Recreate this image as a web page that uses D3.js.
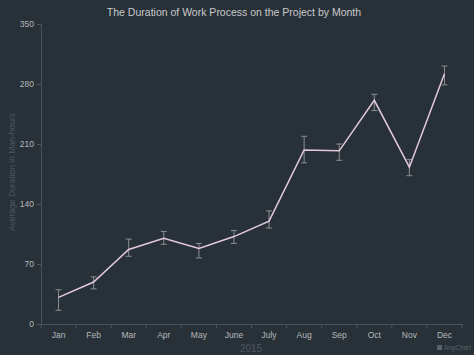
<!DOCTYPE html>
<html><head><meta charset="utf-8">
<script src="https://cdn.jsdelivr.net/npm/d3@7"></script>
<style>html,body{margin:0;padding:0;background:#293138;}svg{display:block;}</style>
</head><body>
<svg id="c" width="474" height="355"></svg>
<script>
const months = ["Jan","Feb","Mar","Apr","May","June","July","Aug","Sep","Oct","Nov","Dec"];
const values = [31, 49, 87, 100, 88, 102, 120, 203, 202, 261, 183, 292];
const errLow = [16, 41, 79, 93, 77, 94, 112, 188, 191, 249, 173, 279];
const errHigh = [40, 55, 99, 108, 94, 109, 132, 219, 210, 268, 192, 301];
const yTicks = [0, 70, 140, 210, 280, 350];

const svg = d3.select("#c");
const W = 474, H = 355;
svg.append("rect").attr("width", W).attr("height", H).attr("fill", "#293138");

const x = d3.scaleBand().domain(months).range([41, 462]);
const y = d3.scaleLinear().domain([0, 350]).range([324, 24]);

const font = "Arial, 'Liberation Sans', sans-serif";

svg.append("text").attr("x", 234).attr("y", 16).attr("text-anchor", "middle")
  .attr("font-family", font).attr("font-size", 10.5).attr("fill", "#c8cacc")
  .text("The Duration of Work Process on the Project by Month");

// y axis
const ya = svg.append("g").attr("transform", "translate(41,0)")
  .call(d3.axisLeft(y).tickValues(yTicks).tickSize(4).tickPadding(3));
ya.select(".domain").attr("stroke", "#4b545b");
ya.selectAll(".tick line").attr("stroke", "#4b545b");
ya.selectAll(".tick text").attr("fill", "#b4b8bb").attr("font-family", font).attr("font-size", 8.5);

// x axis
const xa = svg.append("g").attr("transform", "translate(0,324)")
  .call(d3.axisBottom(x).tickSize(0).tickPadding(8));
xa.select(".domain").attr("stroke", "#4b545b");
xa.selectAll(".tick text").attr("fill", "#b4b8bb").attr("font-family", font).attr("font-size", 8.5);
const bounds = months.map(m => x(m)).concat([x.range()[1]]);
svg.append("g").selectAll("line").data(bounds).join("line")
  .attr("x1", d => d).attr("x2", d => d).attr("y1", 324).attr("y2", 328)
  .attr("stroke", "#4b545b");

// axis titles
svg.append("text").attr("transform", "translate(15,172) rotate(-90)")
  .attr("text-anchor", "middle").attr("font-family", font).attr("font-size", 8.5)
  .attr("fill", "#4e575e").text("Average Duration in Man-hours");
svg.append("text").attr("x", 251).attr("y", 352).attr("text-anchor", "middle")
  .attr("font-family", font).attr("font-size", 10).attr("fill", "#4e575e").text("2015");

const cx = m => x(m) + x.bandwidth() / 2;

// error bars
const eb = svg.append("g").attr("stroke", "#8b8f93").attr("stroke-width", 1);
months.forEach((m, i) => {
  const c = cx(m);
  eb.append("line").attr("x1", c).attr("x2", c).attr("y1", y(errLow[i])).attr("y2", y(errHigh[i]));
  eb.append("line").attr("x1", c - 3).attr("x2", c + 3).attr("y1", y(errLow[i])).attr("y2", y(errLow[i]));
  eb.append("line").attr("x1", c - 3).attr("x2", c + 3).attr("y1", y(errHigh[i])).attr("y2", y(errHigh[i]));
});

// line
const line = d3.line().x((d, i) => cx(months[i])).y(d => y(d));
svg.append("path").datum(values).attr("d", line).attr("fill", "none")
  .attr("stroke", "#e3c9dc").attr("stroke-width", 1.5);

// credit
const cr = svg.append("g").attr("transform", "translate(437,350)");
cr.append("rect").attr("x", 0).attr("y", -5).attr("width", 5).attr("height", 5).attr("fill", "#5a636a");
cr.append("text").attr("x", 7).attr("y", 0).attr("font-family", font).attr("font-size", 6.5)
  .attr("fill", "#5a636a").text("AnyChart");
</script>
</body></html>
